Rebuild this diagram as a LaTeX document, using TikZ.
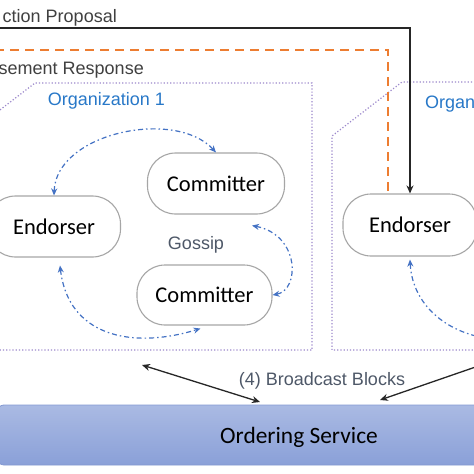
\documentclass[tikz,border=0pt]{standalone}
\usepackage{fontspec}
\setmainfont{Liberation Sans}
\newfontfamily\calfont{Carlito}
\usetikzlibrary{arrows.meta}
\definecolor{orgline}{HTML}{9C88CC}
\definecolor{nodegray}{HTML}{A6A6A6}
\definecolor{gossipblue}{HTML}{4472C4}
\definecolor{orgblue}{HTML}{2878C8}
\definecolor{orange}{HTML}{ED7D31}
\definecolor{labgray}{HTML}{404040}
\definecolor{slate}{HTML}{4E5868}
\definecolor{ostop}{HTML}{AABAE3}
\definecolor{osbot}{HTML}{8AA0D8}
\definecolor{osline}{HTML}{8499D2}
\tikzset{
  peer/.style={draw=nodegray, line width=1.1pt, rounded corners=28pt, fill=white,
    inner sep=0pt, font=\calfont\fontsize{22.5}{24}\selectfont},
  orgbox/.style={draw=orgline, line width=1.2pt, dash pattern=on 1.2pt off 2pt},
  gossip/.style={draw=gossipblue, line width=1.2pt,
    dash pattern=on 5pt off 3pt on 1.5pt off 3pt,
    {Stealth[length=7pt,width=6pt]}-{Stealth[length=7pt,width=6pt]}},
  gossipone/.style={draw=gossipblue, line width=1.2pt,
    dash pattern=on 5pt off 3pt on 1.5pt off 3pt,
    {Stealth[length=7pt,width=6pt]}-},
  plain/.style={font=\fontsize{18}{20}\selectfont, inner sep=0pt, anchor=base},
  blk/.style={line width=1.3pt, draw=black!85},
}
\begin{document}
\begin{tikzpicture}[x=1pt,y=-1pt]
\useasboundingbox (0,0) rectangle (474,474);
\clip (0,0) rectangle (474,474);
\fill[white] (0,0) rectangle (474,474);

% organisation frames
\draw[orgbox] (-5,113.75) -- (35,83) -- (312,83) -- (312,350) -- (-5,350);
\draw[orgbox] (520,82) -- (402,82) -- (332,136) -- (332,350) -- (520,350);

% labels
\node[plain, anchor=base east, text=labgray] (tp) at (117,22) {ction Proposal};
\node[plain, anchor=base east, text=labgray] (er) at (144,74) {sement Response};
\node[plain, text=orgblue] (o1) at (106.5,105) {Organization 1};
\node[plain, anchor=base west, text=orgblue] (o2) at (425,108) {Organ};
\node[plain, text=slate] (gs) at (196,249) {Gossip};
\node[plain, text=slate] (bb) at (322,385) {(4) Broadcast Blocks};

% peers
\node[peer, minimum width=133pt, minimum height=61pt] (e1) at (54,226.5) {Endorser};
\node[peer, minimum width=137pt, minimum height=61pt] (c1) at (216,183.5) {Committer};
\node[peer, minimum width=135pt, minimum height=60pt] (c2) at (204.5,295) {Committer};
\node[peer, minimum width=134pt, minimum height=62pt] (e2) at (410,225) {Endorser};

% ordering service
\node[draw=osline, line width=0.8pt, rounded corners=7pt, top color=ostop, bottom color=osbot,
      minimum width=604pt, minimum height=60pt, inner sep=0pt] (os) at (299,435) {};
\node[plain, font=\calfont\fontsize{23.4}{25}\selectfont] (ost) at (299,443) {Ordering Service};

% proposal and response lines
\coordinate (tpstart) at (-5,28);
\coordinate (erstart) at (-5,50);
\draw[blk, -{Stealth[length=8pt,width=7pt]}] (tpstart) -| (e2.north);
\draw[draw=orange, line width=2pt, dash pattern=on 9pt off 6pt] (erstart) -| ([shift={(-22,0)}]e2.north);

% gossip arrows
\draw[gossip] (e1.north) .. controls (56,133) and (175,108) .. (c1.north);
\draw[gossip] ([shift={(6,8)}]e1.south) .. controls (68,335) and (130,350) .. ([shift={(-4,3)}]c2.south);
\draw[gossip] ([shift={(36,11)}]c1.south) .. controls (300,235) and (300,290) .. (c2.east);
\coordinate (g4end) at (485,338);
\draw[gossipone] ([shift={(0,3)}]e2.south) .. controls (412,300) and (440,330) .. (g4end);

% broadcast arrows
\coordinate (b1) at (142,365);
\coordinate (b1e) at (260,402);
\coordinate (b2) at (490,362);
\coordinate (b2e) at (380,400);
\draw[blk, {Stealth[length=8pt,width=7pt]}-{Stealth[length=8pt,width=7pt]}] (b1) -- (b1e);
\draw[blk, -{Stealth[length=8pt,width=7pt]}] (b2) -- (b2e);
\end{tikzpicture}
\end{document}
